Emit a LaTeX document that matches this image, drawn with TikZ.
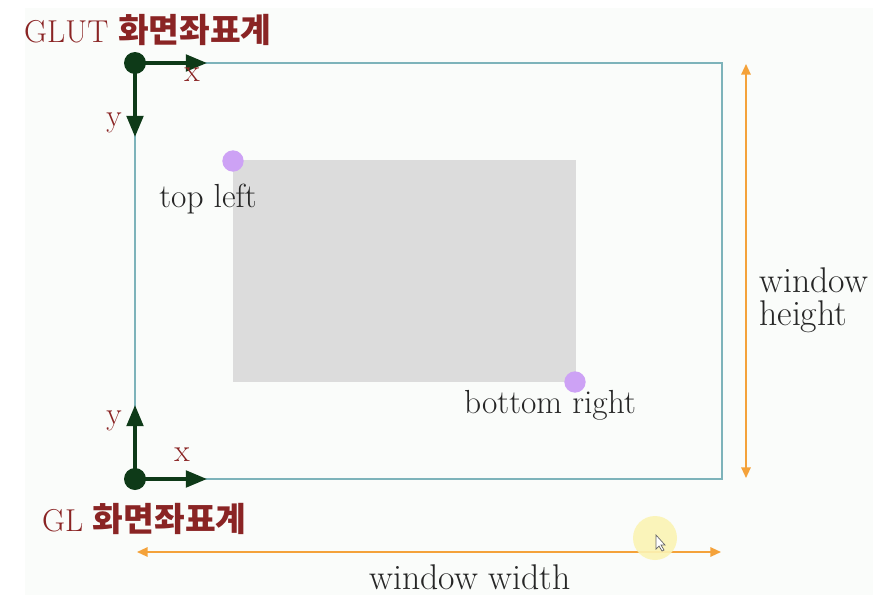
\documentclass[tikz,border=0pt]{standalone}
\usepackage{fontspec}
\newfontfamily\kr{Noto Sans CJK KR}
\usepackage{tikz}
\usetikzlibrary{arrows.meta}
\definecolor{axisgreen}{HTML}{0E3A18}
\definecolor{labelred}{HTML}{8A2424}
\definecolor{winteal}{HTML}{7DB3BA}
\definecolor{sizeorange}{HTML}{F4A23A}
\definecolor{dotpurple}{HTML}{CDA2F5}
\definecolor{boxgray}{HTML}{DCDCDC}
\definecolor{panel}{HTML}{FAFCFA}
\definecolor{pointer}{HTML}{FBF4B4}
\tikzset{
  dot/.style={circle, fill=axisgreen, minimum size=0.66cm, inner sep=0pt},
  corner/.style={circle, fill=dotpurple, minimum size=0.64cm, inner sep=0pt},
  axis/.style={line width=3.2pt, axisgreen, -{Triangle[length=18pt,width=14pt]}},
  size/.style={line width=1.4pt, sizeorange, {Triangle[length=9pt,width=8pt]}-{Triangle[length=9pt,width=8pt]}},
  lbl/.style={font=\fontsize{28.5}{30}\selectfont, text=black!85, inner sep=0pt},
  sizelbl/.style={font=\fontsize{30.5}{28}\selectfont, text=black!85, inner sep=0pt},
  axlbl/.style={font=\fontsize{27}{30}\selectfont, text=labelred, inner sep=0pt},
}

\begin{document}
\begin{tikzpicture}[x=0.03cm, y=-0.03cm]
		%%%%% START %%%%%
		\useasboundingbox (0, 0) rectangle (888, 614);
		\fill[white] (0, 0) rectangle (888, 614);
		\fill[panel] (25, 8) rectangle (873, 595);
		
		% window
		\draw[winteal, line width=1.7pt] (135, 63) rectangle (722, 479);
		\fill[boxgray] (233, 160) rectangle (576, 382);
		\node[corner] (tl) at (233, 161) {};
		\node[corner] (br) at (575, 382) {};
		\node[lbl] (tltext) at (208, 199) {top left};
		\node[lbl] (brtext) at (550, 405) {bottom right};
		
		% GLUT axes
		\coordinate (glutx) at (207, 63);
		\coordinate (gluty) at (135, 137);
		\draw[axis] (135, 63) -- (glutx);
		\draw[axis] (135, 63) -- (gluty);
		\node[dot] (glut) at (135, 63) {};
		\node[axlbl] (glutxl) at (192, 75) {x};
		\node[axlbl] (glutyl) at (114, 123) {y};
		\node[axlbl, anchor=west] (gluttext) at (24, 30) {GLUT {\kr\bfseries\fontsize{28.5}{30}\selectfont 화면좌표계}};
		
		% GL axes
		\coordinate (glx) at (207, 479);
		\coordinate (gly) at (135, 405);
		\draw[axis] (135, 479) -- (glx);
		\draw[axis] (135, 479) -- (gly);
		\node[dot] (gl) at (135, 479) {};
		\node[axlbl] (glxl) at (182, 455) {x};
		\node[axlbl] (glyl) at (114, 421) {y};
		\node[axlbl, anchor=west] (gltext) at (42, 519) {GL {\kr\bfseries\fontsize{28.5}{30}\selectfont 화면좌표계}};
		
		% window size
		\coordinate (htop) at (746, 64);
		\coordinate (hbot) at (746, 478);
		\draw[size] (hbot) -- (htop);
		\node[sizelbl, anchor=west, align=left] (htext) at (759, 300) {window\\height};
		\coordinate (wleft) at (137, 552);
		\coordinate (wright) at (721, 552);
		\draw[size] (wleft) -- (wright);
		\node[sizelbl] (wtext) at (470, 577) {window width};
		
		% pointer
		\fill[pointer, opacity=0.9] (655, 538) circle (22);
		\draw[black!60, fill=white, line width=0.6pt] (656, 535) -- (656, 549) -- (659, 546) -- (662, 551) -- (664, 550) -- (661, 545) -- (665, 545) -- cycle;
		%%%%% END %%%%%
	\end{tikzpicture}
\end{document}
